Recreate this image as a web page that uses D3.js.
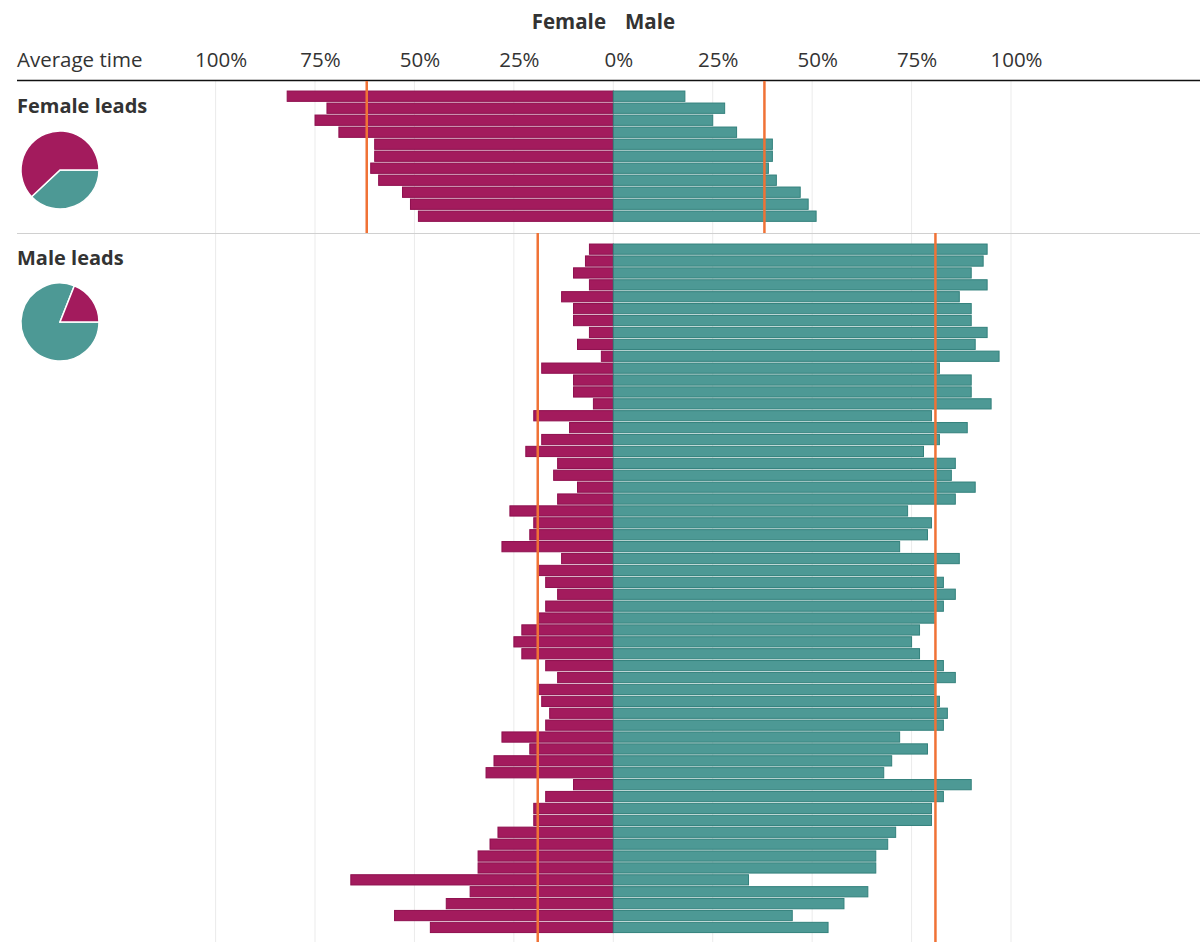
<!DOCTYPE html>
<head>
  <meta charset="utf-8">
  <script src="https://d3js.org/d3.v7.min.js"></script>
  <style>
    body { margin: 0; background: #fff; }
    svg { font-family: "Open Sans", sans-serif; }
    .grid line { stroke: #ebebeb; stroke-width: 1; }
    .tick-label { font-size: 20.5px; fill: #333; text-anchor: middle; }
    .head { font-size: 20.5px; font-weight: bold; fill: #333; }
    .group-title { font-size: 20px; font-weight: bold; fill: #333; }
    .bar-f { fill: #a31b5d; stroke: #8e0f4e; stroke-width: 1; }
    .bar-m { fill: #4d9995; stroke: #33817c; stroke-width: 1; }
    .avg { stroke: #f07236; stroke-width: 2.5; }
  </style>
</head>
<body>
<div id="chart"></div>
<script>
// tick values (negative = female side)
var ticks = [-100, -75, -50, -25, 0, 25, 50, 75, 100];

// share of dialogue per film, female leads
var femaleLeadsFemale = [82, 72, 75, 69, 60, 60, 61, 59, 53, 51, 49];
var femaleLeadsMale   = [18, 28, 25, 31, 40, 40, 39, 41, 47, 49, 51];

// male leads
var maleLeadsFemale = [6, 7, 10, 6, 13, 10, 10, 6, 9, 3, 18, 10, 10, 5, 20, 11, 18, 22, 14, 15,
                       9, 14, 26, 20, 21, 28, 13, 19, 17, 14, 17, 19, 23, 25, 23, 17, 14, 19, 18, 16,
                       17, 28, 21, 30, 32, 10, 17, 20, 20, 29, 31, 34, 34, 66, 36, 42, 55, 46];
var maleLeadsMale   = [94, 93, 90, 94, 87, 90, 90, 94, 91, 97, 82, 90, 90, 95, 80, 89, 82, 78, 86, 85,
                       91, 86, 74, 80, 79, 72, 87, 81, 83, 86, 83, 81, 77, 75, 77, 83, 86, 81, 82, 84,
                       83, 72, 79, 70, 68, 90, 83, 80, 80, 71, 69, 66, 66, 34, 64, 58, 45, 54];

// average time [female, male]
var femaleLeadsAvg = [62, 38];
var maleLeadsAvg = [19, 81];

var width = 1200, height = 942;

var svg = d3.select("#chart").append("svg")
    .attr("width", width)
    .attr("height", height);

var x = d3.scaleLinear()
    .domain([-100, 100])
    .range([215.6, 1011]);

var color = { female: "#a31b5d", male: "#4d9995" };

// gridlines
svg.append("g").attr("class", "grid")
  .selectAll("line")
    .data(ticks)
  .enter().append("line")
    .attr("x1", function(d) { return x(d); })
    .attr("x2", function(d) { return x(d); })
    .attr("y1", 81)
    .attr("y2", height);

// header
svg.append("text").attr("class", "head")
    .attr("x", 606).attr("y", 29)
    .attr("text-anchor", "end")
    .text("Female");
svg.append("text").attr("class", "head")
    .attr("x", 625).attr("y", 29)
    .text("Male");

svg.append("text")
    .attr("x", 17).attr("y", 66.5)
    .style("font-size", "20.5px").style("fill", "#333")
    .text("Average time");

svg.selectAll(".tick-label")
    .data(ticks)
  .enter().append("text")
    .attr("class", "tick-label")
    .attr("x", function(d) { return x(d) + 5.5; })
    .attr("y", 66.5)
    .text(function(d) { return Math.abs(d) + "%"; });

svg.append("line")
    .attr("x1", 17).attr("x2", width)
    .attr("y1", 80.5).attr("y2", 80.5)
    .style("stroke", "#111").style("stroke-width", 1.4);

svg.append("line")
    .attr("x1", 17).attr("x2", width)
    .attr("y1", 233.5).attr("y2", 233.5)
    .style("stroke", "#d0d0d0").style("stroke-width", 1);

// draw one group of films
function drawGroup(title, femaleVals, maleVals, avg, top, bottom, barTop, step) {
  var n = femaleVals.length;
  var y = d3.scaleBand()
      .domain(d3.range(n))
      .range([barTop, barTop + n * step])
      .paddingInner(0.14)
      .paddingOuter(0.07);

  var g = svg.append("g");

  g.selectAll(".bar-f")
      .data(femaleVals)
    .enter().append("rect")
      .attr("class", "bar-f")
      .attr("x", function(d) { return x(-d); })
      .attr("y", function(d, i) { return y(i); })
      .attr("width", function(d) { return x(0) - x(-d); })
      .attr("height", y.bandwidth());

  g.selectAll(".bar-m")
      .data(maleVals)
    .enter().append("rect")
      .attr("class", "bar-m")
      .attr("x", x(0))
      .attr("y", function(d, i) { return y(i); })
      .attr("width", function(d) { return x(d) - x(0); })
      .attr("height", y.bandwidth());

  // average lines
  g.selectAll(".avg")
      .data([-avg[0], avg[1]])
    .enter().append("line")
      .attr("class", "avg")
      .attr("x1", function(d) { return x(d); })
      .attr("x2", function(d) { return x(d); })
      .attr("y1", top)
      .attr("y2", bottom);

  g.append("text").attr("class", "group-title")
      .attr("x", 17).attr("y", top + 32)
      .text(title);

  // pie: male share first, starting at 3 o'clock
  var pie = d3.pie().sort(null)
      .startAngle(Math.PI / 2).endAngle(Math.PI / 2 + 2 * Math.PI)
      .value(function(d) { return d.v; });
  var arc = d3.arc().innerRadius(0).outerRadius(39);
  g.append("g")
      .attr("transform", "translate(60," + (top + 89) + ")")
    .selectAll("path")
      .data(pie([{k: "male", v: avg[1]}, {k: "female", v: avg[0]}]))
    .enter().append("path")
      .attr("d", arc)
      .style("fill", function(d) { return color[d.data.k]; })
      .style("stroke", "#fff")
      .style("stroke-width", 1.5);
}

drawGroup("Female leads", femaleLeadsFemale, femaleLeadsMale, femaleLeadsAvg, 81, 233, 90.2, 12);
drawGroup("Male leads", maleLeadsFemale, maleLeadsMale, maleLeadsAvg, 233, height, 243.2, 11.9);

</script>
</body>
